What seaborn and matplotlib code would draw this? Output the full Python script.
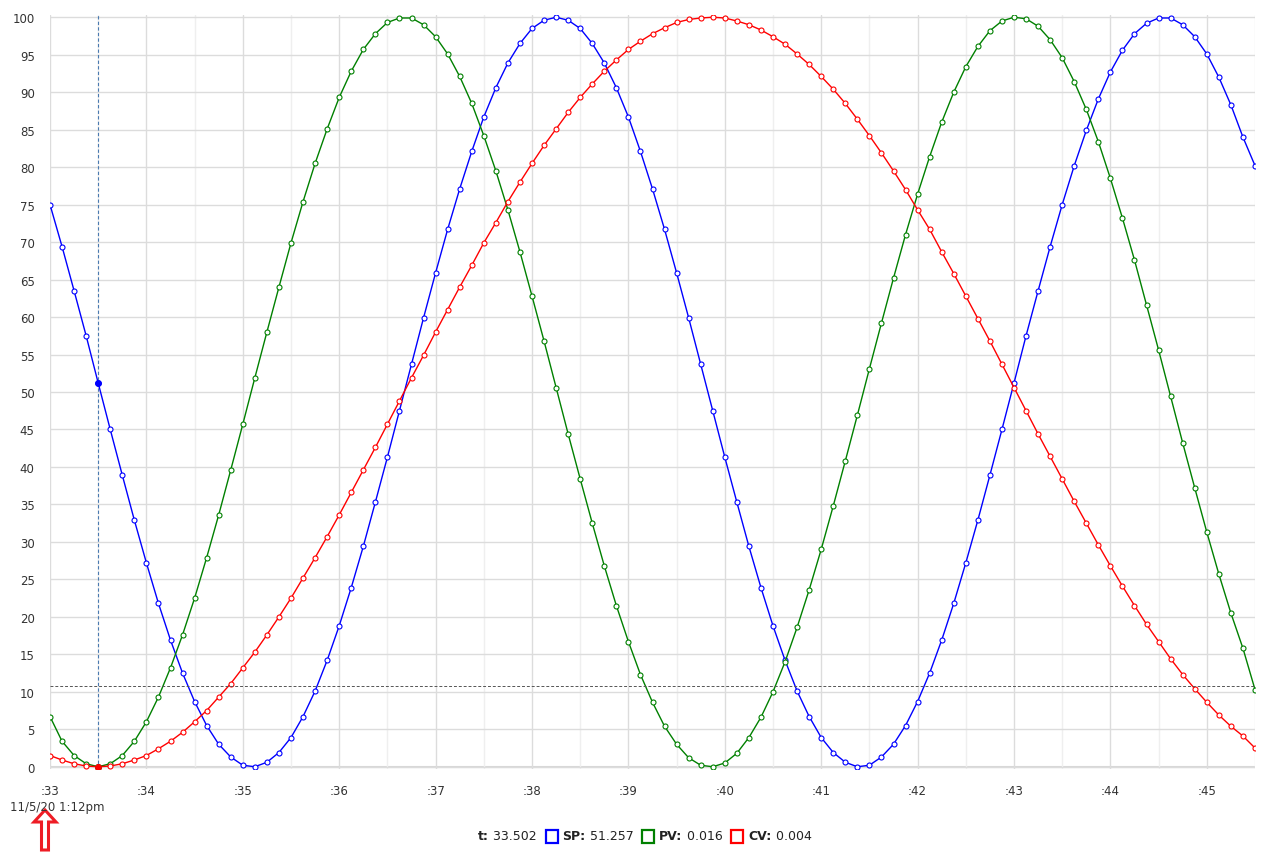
import numpy as np
import pandas as pd
import seaborn as sns
import matplotlib.pyplot as plt
from matplotlib.patches import Rectangle, FancyArrow

t_start = 33.0
t_step = 0.125
sp = [75.0,69.4,63.5,57.5,51.2,45.0,38.9,32.9,27.2,21.8,16.9,12.5,8.7,5.5,3.0,1.3,0.2,0.0,0.6,1.9,
      3.9,6.7,10.1,14.2,18.8,23.9,29.4,35.3,41.3,47.5,53.7,59.9,65.9,71.7,77.1,82.1,86.7,90.6,93.9,96.5,
      98.5,99.6,100.0,99.6,98.5,96.5,93.9,90.6,86.7,82.1,77.1,71.7,65.9,59.9,53.7,47.5,41.3,35.3,29.4,23.9,
      18.8,14.2,10.1,6.7,3.9,1.9,0.6,0.0,0.2,1.3,3.0,5.5,8.7,12.5,16.9,21.8,27.2,32.9,38.9,45.0,
      51.2,57.5,63.5,69.4,75.0,80.2,84.9,89.1,92.7,95.6,97.8,99.2,99.9,99.9,99.0,97.4,95.1,92.0,88.3,84.0,80.2]
pv = [6.7,3.4,1.5,0.4,0.0,0.4,1.5,3.4,6.0,9.3,13.2,17.6,22.5,27.9,33.6,39.6,45.7,51.9,58.0,64.0,
      69.9,75.4,80.5,85.1,89.3,92.8,95.7,97.8,99.3,99.9,99.9,99.0,97.4,95.1,92.1,88.5,84.2,79.5,74.3,68.7,
      62.8,56.8,50.6,44.4,38.4,32.5,26.8,21.5,16.7,12.3,8.6,5.4,3.0,1.2,0.2,0.0,0.5,1.8,3.9,6.6,
      10.0,14.0,18.6,23.6,29.0,34.8,40.8,46.9,53.1,59.2,65.2,71.0,76.4,81.4,86.0,90.0,93.4,96.1,98.2,99.5,
      100.0,99.8,98.8,97.0,94.6,91.4,87.7,83.4,78.5,73.2,67.6,61.6,55.6,49.4,43.2,37.2,31.3,25.7,20.5,15.8,10.3]
cv = [1.5,0.9,0.4,0.1,0.0,0.1,0.4,0.9,1.5,2.4,3.4,4.6,6.0,7.5,9.3,11.1,13.2,15.3,17.6,20.0,
      22.5,25.2,27.9,30.7,33.6,36.6,39.6,42.6,45.7,48.8,51.9,54.9,58.0,61.0,64.0,66.9,69.9,72.6,75.4,78.0,
      80.5,82.9,85.1,87.3,89.3,91.1,92.8,94.3,95.7,96.8,97.8,98.6,99.3,99.7,99.9,100.0,99.9,99.5,99.0,98.3,
      97.4,96.4,95.1,93.7,92.1,90.4,88.5,86.4,84.2,81.9,79.5,77.0,74.3,71.7,68.7,65.8,62.8,59.8,56.8,53.7,
      50.6,47.5,44.4,41.4,38.4,35.4,32.5,29.6,26.8,24.1,21.5,19.0,16.7,14.4,12.3,10.4,8.6,6.9,5.4,4.1,2.5]
x_ticks = list(range(33, 46))
x_labels = [f":{s}" for s in x_ticks]
cursor_t = 33.502
cursor_vals = {"SP": 51.257, "PV": 0.016, "CV": 0.004}
hline_y = 10.8

t = [t_start + t_step * i for i in range(len(sp))]
df = pd.DataFrame({"t": t, "SP": sp, "PV": pv, "CV": cv}).melt("t", var_name="series", value_name="v")
colors = {"SP": "#0000ff", "PV": "#008000", "CV": "#ff0000"}

sns.set_theme(style="white")
fig = plt.figure(figsize=(12.8, 8.62), dpi=100)
ax = fig.add_axes([50/1280, 1-770/862, 1205/1280, (770-16)/862])
sns.lineplot(data=df, x="t", y="v", hue="series", palette=colors, ax=ax, legend=False,
             linewidth=1, marker="o", markersize=3.6, markerfacecolor="white",
             markeredgewidth=0.8, sort=False)
for line, c in zip(ax.lines, ["#0000ff", "#008000", "#ff0000"]):
    line.set_markeredgecolor(c)

ax.set_xlim(33, 45.5)
ax.set_ylim(-0.3, 100.3)
ax.set_yticks(range(0, 101, 5))
ax.set_xticks(x_ticks)
ax.set_xticklabels(x_labels)
ax.set_xticks(np.arange(33.5, 45.6, 1), minor=True)
ax.grid(True, which="major", color="#dcdcdc", linewidth=1)
ax.grid(True, which="minor", axis="x", color="#efefef", linewidth=1)
for s in ax.spines.values():
    s.set_visible(False)
ax.axhline(0, color="#d8d8d8", linewidth=1.5, zorder=0)
ax.tick_params(axis="both", labelsize=8.5, colors="#333333", length=0, pad=11)
ax.set_xlabel("")
ax.set_ylabel("")

ax.axvline(cursor_t, color="#4a7ab0", linestyle=(0, (3, 2)), linewidth=0.8)
ax.axhline(hline_y, color="#555555", linestyle=(0, (3, 2)), linewidth=0.7)
for k, c in [("SP", "#0000ff"), ("PV", "#008000"), ("CV", "#ff0000")]:
    ax.plot([cursor_t], [cursor_vals[k]], "o", color=c, markersize=4, zorder=5)

fig.text(10/1280, 1-808/862, "11/5/20 1:12pm", fontsize=8.5, color="#333333", va="center")
fig.patches.append(FancyArrow(45/1280, 1-851/862, 0, 28/862, width=7/1280, head_width=22/1280,
                              head_length=12/862, fill=False, edgecolor="#ee1c25", linewidth=2.2,
                              transform=fig.transFigure))

yy = 1-837/862
items = [("t:", " 33.502", None)] + [(k + ":", f" {cursor_vals[k]}", colors[k]) for k in ["SP", "PV", "CV"]]
x = 478
r = fig.canvas.get_renderer()
for lab, val, c in items:
    if c is not None:
        fig.patches.append(Rectangle((x/1280, yy-6.5/862), 12/1280, 13/862, fill=False,
                                     edgecolor=c, linewidth=1.6, transform=fig.transFigure))
        x += 17
    t1 = fig.text(x/1280, yy, lab, fontsize=9, fontweight="bold", va="center", color="#222222")
    x += t1.get_window_extent(r).width
    t2 = fig.text(x/1280, yy, val, fontsize=9, va="center", color="#222222")
    x += t2.get_window_extent(r).width + 9

fig.savefig("out.png", dpi=100, facecolor="white")
